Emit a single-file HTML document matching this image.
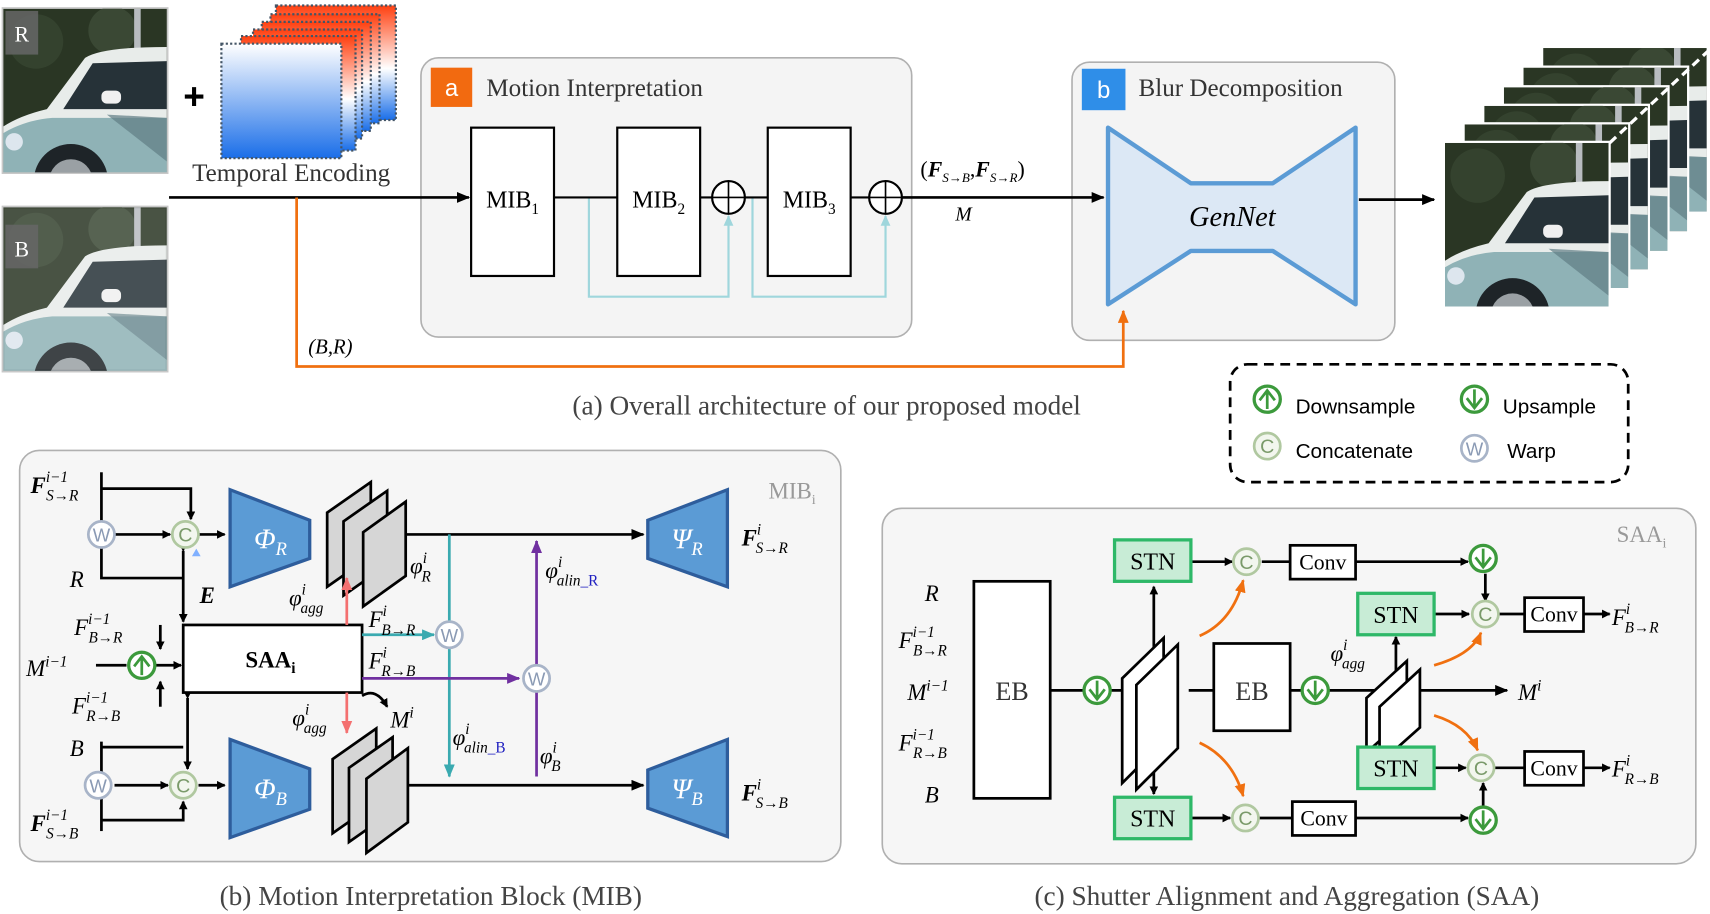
<!DOCTYPE html>
<html><head><meta charset="utf-8"><style>
html,body{margin:0;padding:0;background:#fff;}
svg{display:block;}
text{font-family:"Liberation Serif",serif;}
.it{font-style:italic;}
.s{font-family:"Liberation Sans","DejaVu Sans",sans-serif;}
</style></head><body>
<svg width="1710" height="914" viewBox="0 0 1568 838" xmlns="http://www.w3.org/2000/svg">
<defs>
<marker id="ak" markerWidth="8" markerHeight="8" refX="7" refY="4" orient="auto" markerUnits="userSpaceOnUse"><path d="M0,0 L8,4 L0,8 z" fill="#000"/></marker>
<marker id="ak2" markerWidth="12" markerHeight="10" refX="11" refY="5" orient="auto" markerUnits="userSpaceOnUse"><path d="M0,0 L12,5 L0,10 z" fill="#000"/></marker>
<marker id="ao" markerWidth="12" markerHeight="10" refX="11" refY="5" orient="auto" markerUnits="userSpaceOnUse"><path d="M0,0 L12,5 L0,10 z" fill="#f07010"/></marker>
<marker id="ac" markerWidth="10" markerHeight="9" refX="9" refY="4.5" orient="auto" markerUnits="userSpaceOnUse"><path d="M0,0 L10,4.5 L0,9 z" fill="#9fd6dc"/></marker>
<marker id="at" markerWidth="12" markerHeight="10" refX="11" refY="5" orient="auto" markerUnits="userSpaceOnUse"><path d="M0,0 L12,5 L0,10 z" fill="#3aaab0"/></marker>
<marker id="ap" markerWidth="12" markerHeight="10" refX="11" refY="5" orient="auto" markerUnits="userSpaceOnUse"><path d="M0,0 L12,5 L0,10 z" fill="#7030a0"/></marker>
<marker id="ar" markerWidth="12" markerHeight="10" refX="11" refY="5" orient="auto" markerUnits="userSpaceOnUse"><path d="M0,0 L12,5 L0,10 z" fill="#f47070"/></marker>
<linearGradient id="gb" x1="0" y1="0" x2="0" y2="1"><stop offset="0" stop-color="#ffffff"/><stop offset="1" stop-color="#1a6ee8"/></linearGradient>
<linearGradient id="gr" x1="0" y1="0" x2="0" y2="1"><stop offset="0" stop-color="#ff4010"/><stop offset="0.55" stop-color="#ffffff"/><stop offset="1" stop-color="#1a6ee8"/></linearGradient>
<linearGradient id="gE" x1="0" y1="1" x2="0" y2="0"><stop offset="0" stop-color="#f04020"/><stop offset="1" stop-color="#80b0ff"/></linearGradient>
<clipPath id="cp"><rect x="0" y="0" width="150" height="150"/></clipPath>
<g id="car">
<g clip-path="url(#cp)">
<rect width="150" height="150" fill="#2a3624"/>
<circle cx="30" cy="30" r="25" fill="#34422e"/>
<circle cx="100" cy="20" r="22" fill="#3a4834"/>
<rect x="120" y="0" width="6" height="40" fill="#b8bcc0"/>
<path d="M0,108 Q15,98 40,92 L75,45 Q90,35 150,35 L150,150 L0,150 z" fill="#e8ecea"/>
<path d="M0,114 Q20,102 45,100 L150,100 L150,150 L0,150 z" fill="#8fb2b6"/>
<path d="M55,92 L82,50 L150,48 L150,92 z" fill="#263238"/>
<rect x="90" y="75" width="18" height="12" rx="5" fill="#f0f0f0"/>
<path d="M95,97 L150,140 L150,100 z" fill="#5f7e84" opacity="0.7"/>
<circle cx="62" cy="158" r="34" fill="#1e2428"/>
<circle cx="62" cy="158" r="20" fill="#9aa0a4"/>
<circle cx="10" cy="122" r="8" fill="#dde6ee"/>
</g>
</g>
<g id="W"><circle r="12" fill="#fff" stroke="#a8b4c8" stroke-width="2.5"/><text y="6.5" text-anchor="middle" font-size="17" fill="#8a9ab4" class="s">W</text></g>
<g id="C"><circle r="12" fill="#f2f6ee" stroke="#b0c8a0" stroke-width="2.5"/><text y="6.5" text-anchor="middle" font-size="18" fill="#7a9a6a" class="s">C</text></g>
<g id="UP"><circle r="12" fill="#fff" stroke="#3c9a3c" stroke-width="3"/><path d="M0,9 L0,-8 M-7,1 L0,-8 L7,1" stroke="#3c9a3c" stroke-width="2.5" fill="none"/></g>
<g id="DN"><circle r="12" fill="#fff" stroke="#3c9a3c" stroke-width="3"/><path d="M0,-9 L0,8 M-7,-1 L0,8 L7,-1" stroke="#3c9a3c" stroke-width="2.5" fill="none"/></g>
</defs>

<!-- ===== (a) ===== -->
<rect x="3" y="8" width="150" height="150" fill="none" stroke="#c8c8c8" stroke-width="3"/>
<use href="#car" x="3" y="8"/>
<rect x="5" y="10" width="30" height="40" fill="#666" opacity="0.85"/>
<text x="20" y="38" text-anchor="middle" font-size="20" fill="#fff">R</text>
<rect x="3" y="190" width="150" height="150" fill="none" stroke="#c8c8c8" stroke-width="3"/>
<g opacity="0.85"><use href="#car" x="3" y="190"/></g>
<rect x="5" y="206" width="30" height="40" fill="#666" opacity="0.85"/>
<text x="20" y="235" text-anchor="middle" font-size="20" fill="#fff">B</text>
<text x="178" y="100" text-anchor="middle" font-size="34" font-weight="bold" class="s">+</text>
<g stroke="#445566" stroke-width="2" stroke-dasharray="2,2">
<rect x="253" y="5" width="110" height="105" fill="url(#gr)"/>
<rect x="248" y="13" width="100" height="100" fill="url(#gr)"/>
<rect x="240" y="20" width="100" height="100" fill="url(#gr)"/>
<rect x="232" y="27" width="100" height="100" fill="url(#gr)"/>
<rect x="221" y="33" width="105" height="105" fill="url(#gr)"/>
<rect x="203" y="40" width="110" height="105" fill="url(#gb)"/>
</g>
<text x="267" y="166" text-anchor="middle" font-size="23" fill="#333">Temporal Encoding</text>

<rect x="386" y="53" width="450" height="256" rx="16" fill="#f4f4f4" stroke="#b0b0b0" stroke-width="1.5"/>
<rect x="983" y="57" width="296" height="255" rx="16" fill="#f4f4f4" stroke="#b0b0b0" stroke-width="1.5"/>

<line x1="155" y1="181" x2="430" y2="181" stroke="#000" stroke-width="2.5" marker-end="url(#ak2)"/>
<polyline points="272,181 272,336 1030,336 1030,285" fill="none" stroke="#f07010" stroke-width="2.5" marker-end="url(#ao)"/>
<text x="303" y="324" text-anchor="middle" font-size="19" class="it">(B,R)</text>

<rect x="395" y="62" width="38" height="36" fill="#f26a10"/>
<text x="414" y="88" text-anchor="middle" font-size="22" fill="#fff" class="s">a</text>
<text x="446" y="88" font-size="23" fill="#333">Motion Interpretation</text>
<polyline points="540,181 540,272 668,272 668,198" fill="none" stroke="#9fd6dc" stroke-width="2" marker-end="url(#ac)"/>
<polyline points="690,181 690,272 812,272 812,198" fill="none" stroke="#9fd6dc" stroke-width="2" marker-end="url(#ac)"/>
<line x1="508" y1="181" x2="566" y2="181" stroke="#000" stroke-width="2"/>
<line x1="642" y1="181" x2="704" y2="181" stroke="#000" stroke-width="2"/>
<g fill="#fff" stroke="#000" stroke-width="2">
<rect x="432" y="117" width="76" height="136"/>
<rect x="566" y="117" width="76" height="136"/>
<rect x="704" y="117" width="76" height="136"/>
<circle cx="668" cy="181" r="15"/><circle cx="812" cy="181" r="15"/>
</g>
<path d="M653,181 h30 M668,166 v30 M797,181 h30 M812,166 v30" stroke="#000" stroke-width="1.5"/>
<text x="470" y="190" text-anchor="middle" font-size="22">MIB<tspan font-size="14" dy="6">1</tspan></text>
<text x="604" y="190" text-anchor="middle" font-size="22">MIB<tspan font-size="14" dy="6">2</tspan></text>
<text x="742" y="190" text-anchor="middle" font-size="22">MIB<tspan font-size="14" dy="6">3</tspan></text>
<line x1="780" y1="181" x2="797" y2="181" stroke="#000" stroke-width="2"/>
<line x1="827" y1="181" x2="1012" y2="181" stroke="#000" stroke-width="2.5" marker-end="url(#ak2)"/>
<text x="844" y="162" font-size="20">(<tspan class="it" font-weight="bold">F</tspan><tspan font-size="12" class="it" dy="5">S→B</tspan><tspan dy="-5">,</tspan><tspan class="it" font-weight="bold">F</tspan><tspan font-size="12" class="it" dy="5">S→R</tspan><tspan dy="-5">)</tspan></text>
<text x="876" y="202" font-size="18" class="it">M</text>

<rect x="992" y="63" width="40" height="38" fill="#2f8ee8"/>
<text x="1012" y="90" text-anchor="middle" font-size="22" fill="#fff" class="s">b</text>
<text x="1044" y="88" font-size="23" fill="#333">Blur Decomposition</text>
<polygon points="1016,117 1092,168 1167,168 1243,117 1243,279 1167,230 1092,230 1016,279" fill="#dce8f5" stroke="#5b9bd5" stroke-width="4" stroke-linejoin="round"/>
<text x="1130" y="207" text-anchor="middle" font-size="26" class="it">GenNet</text>
<line x1="1246" y1="183" x2="1315" y2="183" stroke="#000" stroke-width="2.5" marker-end="url(#ak2)"/>
<g>
<g transform="translate(1415,44)"><rect x="-1" y="-1" width="152" height="152" fill="#fff"/><use href="#car"/></g>
<g transform="translate(1397,62)"><rect x="-2" y="-2" width="154" height="154" fill="#fff"/><use href="#car"/></g>
<g transform="translate(1379,80)"><rect x="-2" y="-2" width="154" height="154" fill="#fff"/><use href="#car"/></g>
<g transform="translate(1361,97)"><rect x="-2" y="-2" width="154" height="154" fill="#fff"/><use href="#car"/></g>
<g transform="translate(1343,114)"><rect x="-2" y="-2" width="154" height="154" fill="#fff"/><use href="#car"/></g>
<g transform="translate(1325,131)"><rect x="-2" y="-2" width="154" height="154" fill="#fff"/><use href="#car"/></g>
<line x1="1476" y1="131" x2="1566" y2="47" stroke="#fff" stroke-width="3" stroke-dasharray="8,5"/>
</g>
<rect x="1568" y="0" width="10" height="300" fill="#fff"/>
<text x="758" y="380" text-anchor="middle" font-size="25" fill="#444">(a) Overall architecture of our proposed model</text>

<rect x="1128" y="334" width="365" height="108" rx="16" fill="#fff" stroke="#000" stroke-width="2.5" stroke-dasharray="9,6"/>
<use href="#UP" x="1162" y="366"/><text x="1188" y="379" font-size="19" class="s">Downsample</text>
<use href="#DN" x="1352" y="366"/><text x="1378" y="379" font-size="19" class="s">Upsample</text>
<use href="#C" x="1162" y="409"/><text x="1188" y="420" font-size="19" class="s">Concatenate</text>
<use href="#W" x="1352" y="411"/><text x="1382" y="420" font-size="19" class="s">Warp</text>

<!-- ===== (b) MIB ===== -->
<rect x="18" y="413" width="753" height="377" rx="18" fill="#f6f6f6" stroke="#b0b0b0" stroke-width="1.5"/>
<text x="748" y="457" text-anchor="end" font-size="21" fill="#999">MIB<tspan font-size="13" dy="5">i</tspan></text>
<g stroke="#000" stroke-width="2.5" fill="none">
<line x1="93" y1="433" x2="93" y2="478"/>
<polyline points="93,448 175,448 175,476" marker-end="url(#ak)"/>
<line x1="105" y1="490" x2="156" y2="490" marker-end="url(#ak)"/>
<line x1="182" y1="490" x2="206" y2="490" marker-end="url(#ak)"/>
<polyline points="93,502 93,530 168,530"/>
<line x1="168" y1="505" x2="168" y2="570" marker-start="url(#ak)" marker-end="url(#ak)"/>
<line x1="372" y1="490" x2="590" y2="490" marker-end="url(#ak2)"/>
<line x1="93" y1="680" x2="93" y2="708"/>
<polyline points="93,685 168,685"/>
<line x1="93" y1="732" x2="93" y2="762"/>
<polyline points="93,752 168,752 168,735" marker-end="url(#ak)"/>
<line x1="105" y1="720" x2="154" y2="720" marker-end="url(#ak)"/>
<line x1="182" y1="720" x2="206" y2="720" marker-end="url(#ak)"/>
<line x1="172" y1="640" x2="172" y2="705" marker-start="url(#ak)" marker-end="url(#ak)"/>
<line x1="372" y1="720" x2="590" y2="720" marker-end="url(#ak2)"/>
<line x1="147" y1="573" x2="147" y2="595" marker-end="url(#ak)"/>
<line x1="147" y1="648" x2="147" y2="625" marker-end="url(#ak)"/>
<line x1="88" y1="610" x2="116" y2="610"/>
<line x1="142" y1="610" x2="166" y2="610" marker-end="url(#ak)"/>
<path d="M332,638 Q345,630 355,648" marker-end="url(#ak)"/>
</g>
<line x1="180" y1="532" x2="180" y2="508" stroke="url(#gE)" stroke-width="2"/>
<path d="M176,510 L180,503 L184,510 z" fill="#80b0ff"/>
<use href="#W" x="93" y="490"/><use href="#C" x="170" y="490"/>
<use href="#W" x="90" y="720"/><use href="#C" x="168" y="720"/>
<use href="#UP" x="130" y="610"/>
<polygon points="211,449 284,477 284,512 211,538" fill="#5b9bd5" stroke="#2e5d9c" stroke-width="3"/>
<polygon points="211,678 284,705 284,742 211,768" fill="#5b9bd5" stroke="#2e5d9c" stroke-width="3"/>
<polygon points="594,477 667,449 667,538 594,512" fill="#5b9bd5" stroke="#2e5d9c" stroke-width="3"/>
<polygon points="594,706 667,678 667,767 594,741" fill="#5b9bd5" stroke="#2e5d9c" stroke-width="3"/>
<text x="248" y="503" text-anchor="middle" font-size="26" fill="#fff" class="it">Φ<tspan font-size="17" dy="6">R</tspan></text>
<text x="248" y="732" text-anchor="middle" font-size="26" fill="#fff" class="it">Φ<tspan font-size="17" dy="6">B</tspan></text>
<text x="630" y="503" text-anchor="middle" font-size="26" fill="#fff" class="it">Ψ<tspan font-size="17" dy="6">R</tspan></text>
<text x="630" y="732" text-anchor="middle" font-size="26" fill="#fff" class="it">Ψ<tspan font-size="17" dy="6">B</tspan></text>
<g fill="#d6d6d6" stroke="#000" stroke-width="2.5">
<polygon points="300,470 340,442 340,510 300,538"/>
<polygon points="315,478 355,450 355,518 315,546"/>
<polygon points="333,488 372,460 372,528 333,556"/>
<polygon points="305,696 345,668 345,736 305,764"/>
<polygon points="320,704 360,676 360,744 320,772"/>
<polygon points="336,714 374,686 374,754 336,782"/>
</g>
<rect x="168" y="573" width="164" height="62" fill="#fff" stroke="#000" stroke-width="2.5"/>
<text x="248" y="612" text-anchor="middle" font-size="21" font-weight="bold">SAA<tspan font-size="14" dy="5">i</tspan></text>
<line x1="318" y1="573" x2="318" y2="530" stroke="#f47070" stroke-width="2.5" marker-end="url(#ar)"/>
<line x1="318" y1="635" x2="318" y2="672" stroke="#f47070" stroke-width="2.5" marker-end="url(#ar)"/>
<line x1="332" y1="582" x2="398" y2="582" stroke="#3aaab0" stroke-width="2.5" marker-end="url(#at)"/>
<line x1="412" y1="490" x2="412" y2="712" stroke="#3aaab0" stroke-width="2.5" marker-end="url(#at)"/>
<line x1="332" y1="622" x2="476" y2="622" stroke="#7030a0" stroke-width="2.5" marker-end="url(#ap)"/>
<line x1="492" y1="712" x2="492" y2="496" stroke="#7030a0" stroke-width="2.5" marker-end="url(#ap)"/>
<use href="#W" x="412" y="582"/><use href="#W" x="492" y="622"/>
<g font-size="21" class="it">
<text x="28" y="452" font-weight="bold">F<tspan font-size="14" font-weight="normal" dy="-10">i−1</tspan><tspan font-size="14" font-weight="normal" dx="-20" dy="17">S→R</tspan></text>
<text x="64" y="538">R</text>
<text x="183" y="553" font-weight="bold">E</text>
<text x="68" y="582">F<tspan font-size="14" dy="-10">i−1</tspan><tspan font-size="14" dx="-20" dy="17">B→R</tspan></text>
<text x="24" y="620">M<tspan font-size="14" dy="-9">i−1</tspan></text>
<text x="66" y="654">F<tspan font-size="14" dy="-10">i−1</tspan><tspan font-size="14" dx="-20" dy="17">R→B</tspan></text>
<text x="64" y="693">B</text>
<text x="28" y="762" font-weight="bold">F<tspan font-size="14" font-weight="normal" dy="-10">i−1</tspan><tspan font-size="14" font-weight="normal" dx="-20" dy="17">S→B</tspan></text>
<text x="265" y="555">φ<tspan font-size="14" dy="-10">i</tspan><tspan font-size="14" dx="-5" dy="17">agg</tspan></text>
<text x="268" y="665">φ<tspan font-size="14" dy="-10">i</tspan><tspan font-size="14" dx="-5" dy="17">agg</tspan></text>
<text x="376" y="526">φ<tspan font-size="14" dy="-10">i</tspan><tspan font-size="14" dx="-5" dy="17">R</tspan></text>
<text x="338" y="575">F<tspan font-size="14" dy="-10">i</tspan><tspan font-size="14" dx="-5" dy="17">B→R</tspan></text>
<text x="338" y="613">F<tspan font-size="14" dy="-10">i</tspan><tspan font-size="14" dx="-5" dy="17">R→B</tspan></text>
<text x="358" y="667">M<tspan font-size="14" dy="-9">i</tspan></text>
<text x="500" y="530">φ<tspan font-size="14" dy="-10">i</tspan><tspan font-size="14" dx="-5" dy="17">alin<tspan fill="#2020c0" font-style="normal">_R</tspan></tspan></text>
<text x="415" y="683">φ<tspan font-size="14" dy="-10">i</tspan><tspan font-size="14" dx="-5" dy="17">alin<tspan fill="#2020c0" font-style="normal">_B</tspan></tspan></text>
<text x="495" y="700">φ<tspan font-size="14" dy="-10">i</tspan><tspan font-size="14" dx="-5" dy="17">B</tspan></text>
<text x="680" y="500" font-weight="bold">F<tspan font-size="14" font-weight="normal" dy="-10">i</tspan><tspan font-size="14" font-weight="normal" dx="-5" dy="17">S→R</tspan></text>
<text x="680" y="734" font-weight="bold">F<tspan font-size="14" font-weight="normal" dy="-10">i</tspan><tspan font-size="14" font-weight="normal" dx="-5" dy="17">S→B</tspan></text>
</g>
<text x="395" y="830" text-anchor="middle" font-size="25" fill="#444">(b) Motion Interpretation Block (MIB)</text>

<!-- ===== (c) SAA ===== -->
<rect x="809" y="466" width="746" height="326" rx="18" fill="#f6f6f6" stroke="#b0b0b0" stroke-width="1.5"/>
<text x="1528" y="497" text-anchor="end" font-size="21" fill="#999">SAA<tspan font-size="13" dy="5">i</tspan></text>
<g font-size="21" class="it">
<text x="848" y="551">R</text>
<text x="824" y="594">F<tspan font-size="14" dy="-10">i−1</tspan><tspan font-size="14" dx="-20" dy="17">B→R</tspan></text>
<text x="832" y="642">M<tspan font-size="14" dy="-9">i−1</tspan></text>
<text x="824" y="688">F<tspan font-size="14" dy="-10">i−1</tspan><tspan font-size="14" dx="-20" dy="17">R→B</tspan></text>
<text x="848" y="736">B</text>
<text x="1220" y="606">φ<tspan font-size="14" dy="-10">i</tspan><tspan font-size="14" dx="-5" dy="17">agg</tspan></text>
<text x="1392" y="642">M<tspan font-size="14" dy="-9">i</tspan></text>
<text x="1478" y="573">F<tspan font-size="14" dy="-10">i</tspan><tspan font-size="14" dx="-5" dy="17">B→R</tspan></text>
<text x="1478" y="712">F<tspan font-size="14" dy="-10">i</tspan><tspan font-size="14" dx="-5" dy="17">R→B</tspan></text>
</g>
<g stroke="#000" stroke-width="2.5" fill="none">
<line x1="963" y1="633" x2="1035" y2="633"/>
<line x1="1090" y1="633" x2="1113" y2="633"/>
<line x1="1183" y1="633" x2="1260" y2="633"/>
<line x1="1300" y1="633" x2="1382" y2="633" marker-end="url(#ak2)"/>
<line x1="1058" y1="620" x2="1058" y2="538" marker-end="url(#ak)"/>
<line x1="1058" y1="650" x2="1058" y2="728" marker-end="url(#ak)"/>
<line x1="1280" y1="630" x2="1280" y2="584" marker-end="url(#ak)"/>
<line x1="1280" y1="640" x2="1280" y2="683" marker-end="url(#ak)"/>
<line x1="1092" y1="515" x2="1130" y2="515" marker-end="url(#ak)"/>
<line x1="1157" y1="515" x2="1183" y2="515"/>
<line x1="1243" y1="515" x2="1346" y2="515" marker-end="url(#ak)"/>
<line x1="1362" y1="526" x2="1362" y2="551" marker-end="url(#ak)"/>
<line x1="1315" y1="563" x2="1347" y2="563" marker-end="url(#ak)"/>
<line x1="1374" y1="563" x2="1398" y2="563"/>
<line x1="1452" y1="563" x2="1476" y2="563" marker-end="url(#ak)"/>
<line x1="1315" y1="704" x2="1344" y2="704" marker-end="url(#ak)"/>
<line x1="1370" y1="704" x2="1398" y2="704"/>
<line x1="1452" y1="704" x2="1476" y2="704" marker-end="url(#ak)"/>
<line x1="1092" y1="750" x2="1128" y2="750" marker-end="url(#ak)"/>
<line x1="1154" y1="750" x2="1185" y2="750"/>
<line x1="1243" y1="750" x2="1346" y2="750" marker-end="url(#ak)"/>
<line x1="1360" y1="740" x2="1360" y2="718" marker-end="url(#ak)"/>
</g>
<g fill="none" stroke="#f07010" stroke-width="2.5">
<path d="M1100,583 Q1130,570 1140,532" marker-end="url(#ao)"/>
<path d="M1100,681 Q1130,695 1140,730" marker-end="url(#ao)"/>
<path d="M1315,610 Q1350,600 1358,580" marker-end="url(#ao)"/>
<path d="M1315,656 Q1345,665 1355,688" marker-end="url(#ao)"/>
</g>
<rect x="893" y="533" width="70" height="199" fill="#fff" stroke="#000" stroke-width="2.5"/>
<text x="928" y="642" text-anchor="middle" font-size="24" fill="#333">EB</text>
<rect x="1113" y="590" width="70" height="80" fill="#fff" stroke="#000" stroke-width="2.5"/>
<text x="1148" y="642" text-anchor="middle" font-size="24" fill="#333">EB</text>
<use href="#DN" x="1006" y="633"/><use href="#DN" x="1206" y="633"/>
<g fill="#fff" stroke="#000" stroke-width="2.5">
<polygon points="1029,622 1067,585 1067,680 1029,718"/>
<polygon points="1042,628 1080,591 1080,686 1042,724"/>
<polygon points="1253,640 1290,606 1290,657 1253,690"/>
<polygon points="1265,648 1302,614 1302,667 1265,700"/>
</g>
<g fill="#c8ecd6" stroke="#2eb868" stroke-width="3">
<rect x="1022" y="495" width="70" height="38"/>
<rect x="1245" y="544" width="70" height="38"/>
<rect x="1245" y="685" width="70" height="38"/>
<rect x="1022" y="731" width="70" height="38"/>
</g>
<g font-size="22" text-anchor="middle">
<text x="1057" y="522">STN</text><text x="1280" y="571">STN</text>
<text x="1280" y="712">STN</text><text x="1057" y="758">STN</text>
</g>
<g fill="#fff" stroke="#000" stroke-width="2.5">
<rect x="1183" y="500" width="60" height="31"/><rect x="1398" y="548" width="54" height="31"/>
<rect x="1398" y="689" width="54" height="31"/><rect x="1185" y="735" width="58" height="31"/>
</g>
<g font-size="20" text-anchor="middle">
<text x="1213" y="522">Conv</text><text x="1425" y="570">Conv</text>
<text x="1425" y="711">Conv</text><text x="1214" y="757">Conv</text>
</g>
<use href="#C" x="1143" y="515"/><use href="#C" x="1362" y="563"/>
<use href="#C" x="1358" y="704"/><use href="#C" x="1142" y="750"/>
<use href="#DN" x="1360" y="512"/><use href="#DN" x="1360" y="752"/>
<text x="1180" y="830" text-anchor="middle" font-size="25" fill="#444">(c) Shutter Alignment and Aggregation (SAA)</text>
</svg>
</body></html>
